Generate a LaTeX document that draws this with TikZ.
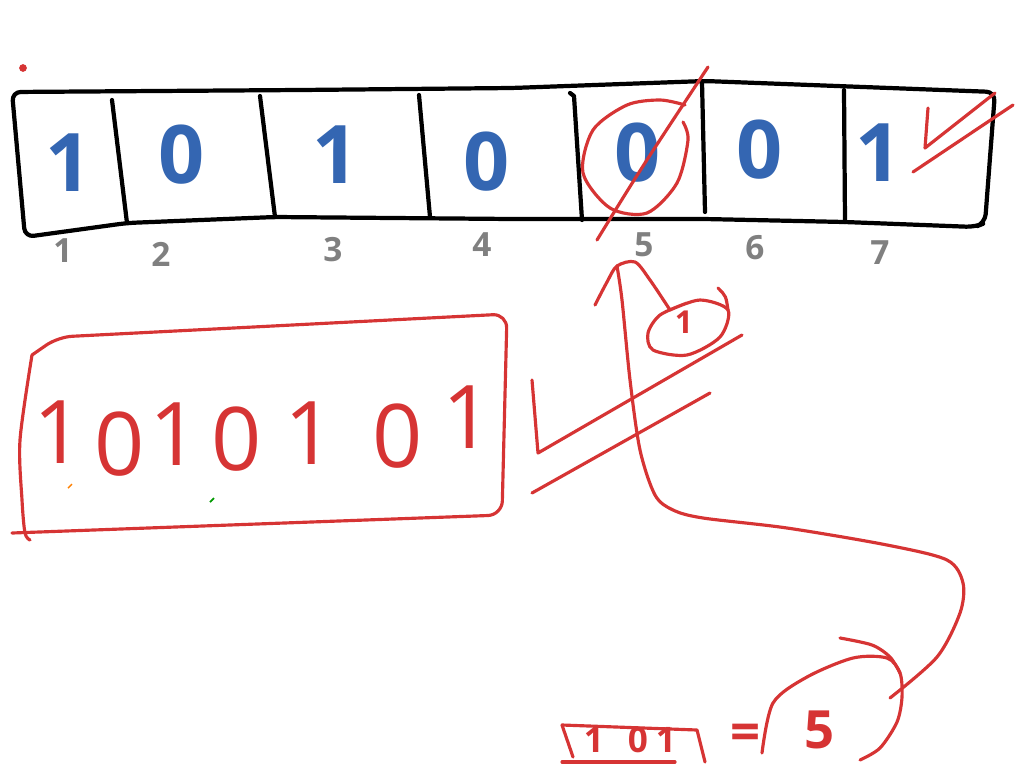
\documentclass[tikz,border=0pt]{standalone}
\usepackage{fontspec}
\setmainfont{Open Sans}
\usetikzlibrary{calc}
\definecolor{penred}{RGB}{214,52,52}
\definecolor{penblue}{RGB}{52,102,178}
\definecolor{pengray}{RGB}{128,128,128}

\begin{document}
\begin{tikzpicture}[x=0.02cm,y=-0.02cm,
    ink/.style={line width=2.4pt,line cap=round,line join=round},
    red ink/.style={penred,line width=1.8pt,line cap=round,line join=round},
    bit/.style={penblue,font=\fontsize{46}{46}\selectfont\bfseries,inner sep=0pt},
    index/.style={pengray,font=\fontsize{19}{19}\selectfont\bfseries,inner sep=0pt},
    fixed/.style={penred,font=\fontsize{50}{50}\selectfont,inner sep=0pt},
    note/.style={penred,font=\fontsize{#1}{#1}\selectfont\bfseries,inner sep=0pt,
      text height=0.72em,text depth=0pt}]
  \useasboundingbox (0,0) rectangle (1024,768);

  % received word
  \fill[penred] (23,68) circle (2.2pt);
  \draw[ink,rounded corners=5pt] (12,92) -- (300,90) -- (512,88) -- (705,81)
    -- (995,92) -- (985,223) -- (975,227) -- (845,222) -- (705,219)
    -- (512,219) -- (275,217) -- (127,223) -- (25,237) -- cycle;
  \draw[ink] (112,100) -- (127,223);
  \draw[ink] (260,96) -- (275,217);
  \draw[ink] (419,95) -- (430,217);
  \draw[ink] (570,93) -- (574,96) -- (582,220);
  \draw[ink] (702,82) -- (705,212);
  \draw[ink] (844,90) -- (845,222);

  \foreach \x/\y/\b [count=\i] in {69/163/1,182/155/0,336/155/1,487/162/0,
      638/153/0,760/150/0,879/153/1}
    \node[bit] (b\i) at (\x,\y) {\b};
  \foreach \x/\y [count=\i] in {63/251,161/254,333/250,482/245,644/245,
      755/248,880/253}
    \node[index] (p\i) at (\x,\y) {\i};

  % wrong bit and check
  \draw[red ink] plot[smooth] coordinates {(683,122) (688,140) (677,183)
    (647,213) (610,208) (583,173) (593,130) (627,105) (660,100) (685,105)};
  \draw[red ink] (597,240) .. controls (640,170) .. (708,67);
  \draw[red ink] (928,108) -- (925,148) -- (995,93);
  \draw[red ink] (913,172) -- (1013,105);

  % corrected word
  \draw[red ink,rounded corners=8pt] (32,355) -- (58,337) -- (507,314)
    -- (502,515) -- (12,533);
  \draw[red ink] plot[smooth] coordinates {(32,355) (20,440) (22,500)
    (25,533) (30,540)};
  \foreach \x/\y/\b [count=\i] in {59/432/1,120/444/0,175/434/1,237/439/0,
      310/433/1,398/436/0,468/417/1}
    \node[fixed] (r\i) at (\x,\y) {\b};
  \draw[red ink] (532,380) -- (538,453) -- (742,335);
  \draw[red ink] (532,493) -- (710,393);
  \draw[orange,line width=0.8pt] (68,488) -- (72,484);
  \draw[green!60!black,line width=1pt] (210,502) -- (214,498);

  % syndrome
  \foreach \x/\b [count=\i] in {594/1,638/0,666/1}
    \node[note=20] (s\i) at (\x,746) {\b};
  \draw[red ink] (562,725) -- (697,730) -- (705,762);
  \draw[red ink] (562,725) -- (573,757);
  \draw[red ink] (562,762) -- (675,762);
  \node[note=30] (eq) at (746,744) {=};
  \node[note=30] (five) at (820,742) {5};
  \draw[red ink] plot[smooth] coordinates {(762,753) (773,703) (807,677)
    (853,658) (887,658) (900,673) (902,697) (897,722) (880,748) (860,760)};
  \draw[red ink] plot[smooth] coordinates {(840,638) (872,645) (890,657)
    (900,673)};

  % flip to one
  \node[note=18] (one) at (684,327) {1};
  \draw[red ink] plot[smooth] coordinates {(670,310) (700,300) (728,310)
    (720,337) (687,355) (653,350) (648,333) (660,315) (687,303)};
  \draw[red ink] (718,288) .. controls (726,296) .. (728,310);

  \coordinate (start) at (890,698);
  \coordinate (tip) at (617,266);
  \draw[red ink] plot[smooth] coordinates {(start) (937,657) (960,613)
    (963,583) (947,560) (887,545) (787,528) (703,518) (673,510) (655,495)
    (640,450) (630,380) (622,300) (tip)};
  \draw[red ink] plot[smooth] coordinates {(595,305) (607,282) (tip)
    (635,262) (650,280) (670,310)};
\end{tikzpicture}
\end{document}
